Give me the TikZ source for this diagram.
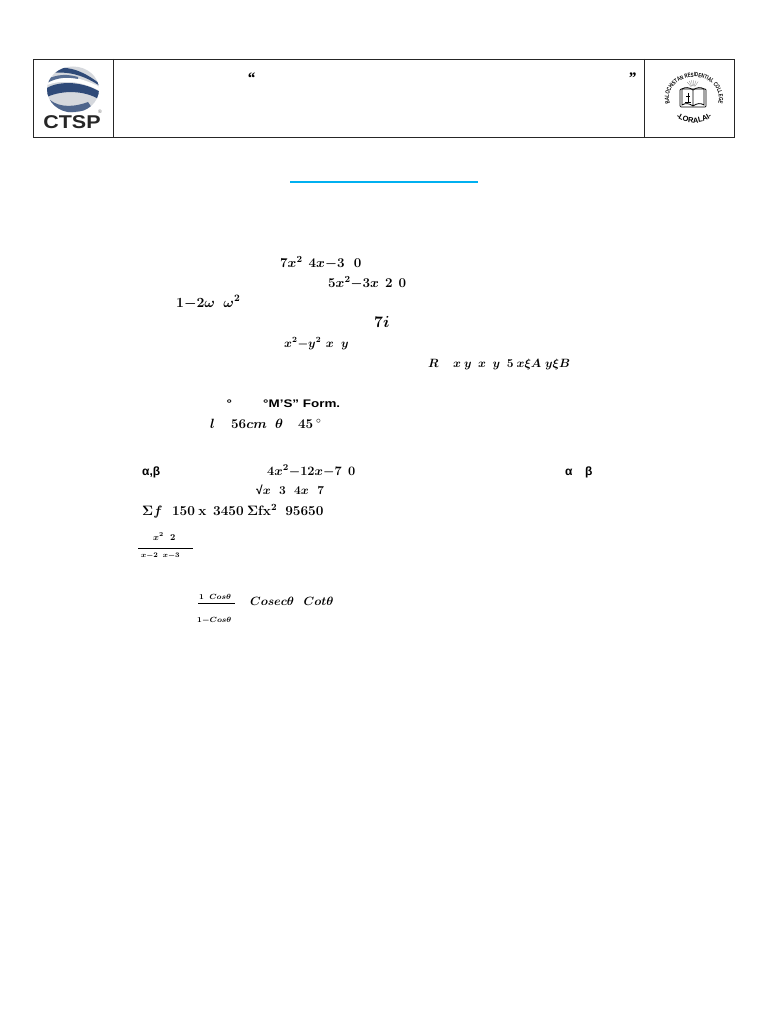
\RequirePackage{fix-cm}
\documentclass[tikz,border=0pt]{standalone}
\usepackage[no-math]{fontspec}
\setmainfont{Liberation Serif}
\newfontfamily\arialf{Liberation Sans}
\newfontfamily\narrowf[FakeStretch=0.72]{Liberation Sans}
\usetikzlibrary{decorations.text}
\definecolor{navy}{HTML}{2F4A78}
\definecolor{globegray}{HTML}{B9BEC6}
\definecolor{linkblue}{HTML}{00B0F0}
\tikzset{
  eq/.style={anchor=base west,inner sep=0pt,font=\fontsize{13.4}{15}\selectfont},
  eqs/.style={anchor=base west,inner sep=0pt,font=\fontsize{12}{14}\selectfont},
  small/.style={anchor=base west,inner sep=0pt,font=\fontsize{9}{10}\selectfont},
  tiny/.style={anchor=base west,inner sep=0pt,font=\fontsize{7.5}{8}\selectfont},
  sans/.style={anchor=base west,inner sep=0pt,xscale=1.22,font=\arialf\bfseries\fontsize{11}{12}\selectfont},
  greek/.style={anchor=base west,inner sep=0pt,font=\arialf\bfseries\fontsize{12}{13}\selectfont},
  frame/.style={draw=black!85,line width=0.75pt},
  rulel/.style={draw=black,line width=0.7pt}
}
\newcommand{\bm}[1]{\mbox{\boldmath$#1$}}
\begin{document}
\begin{tikzpicture}[x=1pt,y=-1pt]
\useasboundingbox (0,0) rectangle (768,1024);
\fill[white] (0,0) rectangle (768,1024);
% header table
\draw[frame] (33,59) rectangle (734,137);
\draw[frame] (113,59) -- (113,137);
\draw[frame] (644,59) -- (644,137);
\node[anchor=center,inner sep=0pt,font=\fontsize{16}{16}\selectfont\bfseries\itshape] (ql) at (251,78) {“};
\node[anchor=center,inner sep=0pt,font=\fontsize{16}{16}\selectfont\bfseries\itshape] (qr) at (632,78) {”};
% CTSP globe
\begin{scope}
  \clip (73,89.5) ellipse (26 and 23);
  \fill[globegray!60] (44,60) rectangle (102,116);
  \fill[navy] (47,88) .. controls (60,80) and (85,82) .. (100,92) -- (100,100) .. controls (85,90) and (62,90) .. (47,97) -- cycle;
  \fill[navy] (55,68) .. controls (70,66) and (85,72) .. (100,84) -- (100,86) .. controls (85,76) and (70,71) .. (52,73) -- cycle;
  \fill[white] (47,78) .. controls (60,74) and (78,76) .. (100,87) -- (100,91) .. controls (80,80) and (60,80) .. (47,85) -- cycle;
  \fill[navy!85] (50,100) .. controls (60,108) and (75,107) .. (88,102) -- (92,108) .. controls (75,114) and (58,114) .. (48,104) -- cycle;
  \fill[navy!80] (47,79) .. controls (58,74) and (68,74) .. (78,77) -- (78,79) .. controls (68,77) and (58,77) .. (47,83) -- cycle;
\end{scope}
\node[anchor=center,inner sep=0pt,xscale=1.16,font=\arialf\bfseries\fontsize{18.5}{20}\selectfont,text=black!85] (ctsp) at (72,122) {CTSP};
\node[anchor=center,inner sep=0pt,font=\arialf\fontsize{5}{5}\selectfont,text=black!60] (reg) at (100,112) {®};
% seal
\draw[line width=0.7pt,rounded corners=1pt] (680,89) rectangle (706,107);
\draw[line width=0.8pt] (693,90) .. controls (689,87) and (685,87) .. (682,89) -- (682,105) .. controls (685,103) and (689,103) .. (693,106) .. controls (697,103) and (701,103) .. (704,105) -- (704,89) .. controls (701,87) and (697,87) .. (693,90) -- (693,106);
\draw[line width=1pt] (688,93) -- (688,102) (686,97) -- (690,97) (685,103) -- (691,103);
\foreach \a in {-130,-115,...,-50}{\draw[line width=0.3pt,gray] (693,89)++(\a:3) -- ++(\a:6);}
\begin{scope}[shift={(694,98)},x=1pt,y=1pt]
\path[postaction={decorate,decoration={text along path,text align=center,
  text={|\narrowf\bfseries\fontsize{6}{7}\selectfont|BALOCHISTAN RESIDENTIAL COLLEGE}}}]
  (205:25 and 21) arc[start angle=205,end angle=-25,x radius=25,y radius=21];
\path[postaction={decorate,decoration={text along path,text align=center,
  text={|\arialf\bfseries\fontsize{7.5}{8}\selectfont|-LORALAI-}}}]
  (222:28 and 25) arc[start angle=222,end angle=318,x radius=28,y radius=25];
\end{scope}
% blue rule
\coordinate (ba) at (290,182);
\coordinate (bb) at (478,182);
\draw[linkblue,line width=1.5pt] (ba) -- (bb);
% equations
\node[eq] (e1) at (280,267) {$\bm{7x^2}$\hspace{0.45em}$\bm{4x{-}3}$\hspace{0.7em}$\mathbf{0}$};
\node[eq] (e2) at (328,287) {$\bm{5x^2{-}3x}$\hspace{0.45em}$\mathbf{2}$\hspace{0.45em}$\mathbf{0}$};
\node[eq,font=\fontsize{14}{15}\selectfont] (e3) at (176,307) {$\bm{1{-}2\omega}$\hspace{0.6em}$\bm{\omega^2}$};
\node[eq,font=\fontsize{16}{17}\selectfont] (e4) at (374,327) {$\bm{7i}$};
\node[eqs] (e5) at (284,347) {$\bm{x^2{-}y^2}$\hspace{0.4em}$\bm{x}$\hspace{0.6em}$\bm{y}$};
\node[eqs] (e6a) at (428,367) {$\bm{R}$};
\node[eqs] (e6b) at (453,367) {$\bm{x}$\hspace{0.25em}$\bm{y}$\hspace{0.55em}$\bm{x}$\hspace{0.55em}$\bm{y}$\hspace{0.55em}$\bm{5}$ $\bm{x\xi A}$\hspace{0.3em}$\bm{y\xi B}$};
\node[sans] (d1) at (226.5,407) {°};
\node[sans] (d2) at (263,407) {°M’S” Form.};
\node[eq] (e7a) at (210,428) {$\bm{l}$};
\node[eq] (e7b) at (231,428) {$\bm{56cm}$};
\node[eq] (e7c) at (275,428) {$\bm{\theta}$};
\node[eq] (e7d) at (298,428) {$\bm{45}$};
\node[eq] (e7e) at (316,428) {$^{\circ}$};
\node[greek] (e8a) at (142,475) {α,β};
\node[eq,font=\fontsize{12.8}{14}\selectfont] (e8b) at (267,475) {$\bm{4x^2{-}12x{-}7}$\hspace{0.5em}$\mathbf{0}$};
\node[greek] (e8c) at (565,475) {α};
\node[greek] (e8d) at (585,475) {β};
\node[eqs] (e9) at (256,494) {{\arialf\bfseries √}$\bm{x}$\hspace{0.7em}$\mathbf{3}$\hspace{0.7em}$\bm{4x}$\hspace{0.7em}$\mathbf{7}$};
\node[eq,font=\fontsize{13.6}{15}\selectfont] (e10) at (142,515) {$\bm{\Sigma f}$\hspace{0.7em}$\mathbf{150}$ $\mathbf{x}$\hspace{0.5em}$\mathbf{3450}$ $\bm{\Sigma}\mathbf{fx^2}$\hspace{0.6em}$\mathbf{95650}$};
\node[small] (f1n) at (153,540) {$\bm{x^2}$\hspace{0.7em}$\mathbf{2}$};
\coordinate (f1a) at (138,548);
\coordinate (f1b) at (193,548);
\draw[rulel] (f1a) -- (f1b);
\node[tiny,font=\fontsize{7}{8}\selectfont] (f1d) at (141,557) {$\bm{x{-}2}$\hspace{0.7em}$\bm{x{-}3}$};
\node[tiny] (f2n) at (199,599) {$\mathbf{1}$\hspace{0.7em}$\bm{Cos\theta}$};
\coordinate (f2a) at (198,603);
\coordinate (f2b) at (235,603);
\draw[rulel] (f2a) -- (f2b);
\node[tiny] (f2d) at (197,622) {$\bm{1{-}Cos\theta}$};
\node[eqs] (e12) at (250,605) {$\bm{Cosec\theta}$\hspace{0.8em}$\bm{Cot\theta}$};
\end{tikzpicture}
\end{document}
